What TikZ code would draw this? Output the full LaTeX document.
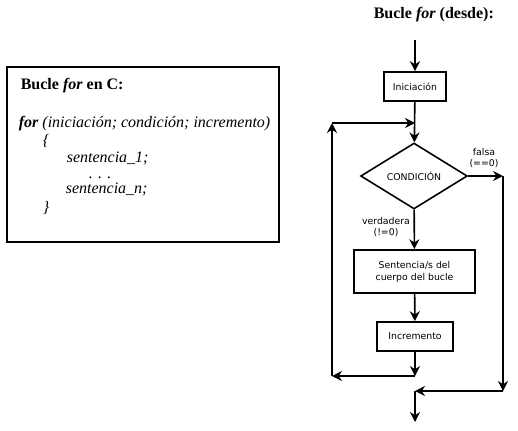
\documentclass[tikz,border=0pt]{standalone}
\usepackage{fontspec}
\setmainfont{Liberation Serif}
\newfontfamily\chartfont{DejaVu Sans}
\usetikzlibrary{shapes.geometric,arrows.meta}

\tikzset{
  code/.style={anchor=base west,inner sep=0pt,font=\fontsize{12}{14}\selectfont},
  box/.style={draw,inner sep=2pt,font=\chartfont\fontsize{7}{9}\selectfont},
  decision/.style={draw,diamond,aspect=1.6,inner sep=1pt,font=\chartfont\fontsize{7}{9}\selectfont},
  tag/.style={inner sep=0pt,align=center,font=\chartfont\fontsize{7}{8}\selectfont}
}

\begin{document}
\begin{tikzpicture}[x=0.75pt,y=-0.75pt,line width=1.2pt,>={Stealth[length=7.5pt,width=7.5pt]}]
            \useasboundingbox (0,0) rectangle (518,430);
            % codigo en C
            \node[draw,minimum width=204pt,minimum height=131.25pt] at (143,154.5) (cbox) {};
            \node[code] at (20,89) (head) {\textbf{Bucle \textit{for} en C:}};
            \node[code] at (18,127) (forln) {\textbf{\textit{for}} \textit{(iniciación; condición; incremento)}};
            \node[code] at (42,145) (lbrace) {\textit{\{}};
            \node[code] at (66,162) (sent1) {\textit{sentencia\_1;}};
            \node[code] at (88,178) (dots) {\textit{. . .}};
            \node[code] at (65,193) (sentn) {\textit{sentencia\_n;}};
            \node[code] at (42,212) (rbrace) {\textit{\}}};
            % diagrama
            \node[code] at (373,18) (title) {\textbf{Bucle \textit{for} (desde):}};
            \node[box,minimum width=46.5pt,minimum height=21.75pt] at (415,86.5) (ini) {Iniciación};
            \node[decision,minimum width=80pt,minimum height=49.5pt] at (414,176) (cond) {CONDICIÓN};
            \node[box,align=center,minimum width=90.75pt,minimum height=32.25pt] at (414.5,271.5) (body) {Sentencia/s del\\cuerpo del bucle};
            \node[box,minimum width=57pt,minimum height=21.75pt] at (415,336.5) (incr) {Incremento};
            \node[tag] at (484,158) (no) {falsa\\(==0)};
            \node[tag] at (386,227) (yes) {verdadera\\(!=0)};
            \coordinate (start) at (415,40);
            \coordinate (ltop) at (332,123);
            \coordinate (ljoin) at (415,123);
            \coordinate (lbot) at (332,376);
            \coordinate (ibot) at (415,376);
            \coordinate (rtop) at (503,176);
            \coordinate (rbot) at (503,391);
            \coordinate (ejoin) at (415,391);
            \coordinate (stop) at (415,422);
            \draw[->] (start) to (ini);
            \draw[->] (ini) to (cond);
            \draw[->] (ltop) to (ljoin);
            \draw[->] (cond) to (body);
            \draw[->] (body) to (incr);
            \draw[->] (incr) to (ibot);
            \draw[->] (ibot) to (lbot);
            \draw[->] (lbot) to (ltop);
            \draw[->] (cond) to (rtop);
            \draw[->] (rtop) to (rbot);
            \draw[->] (rbot) to (ejoin);
            \draw[->] (ejoin) to (stop);
        \end{tikzpicture}
\end{document}
